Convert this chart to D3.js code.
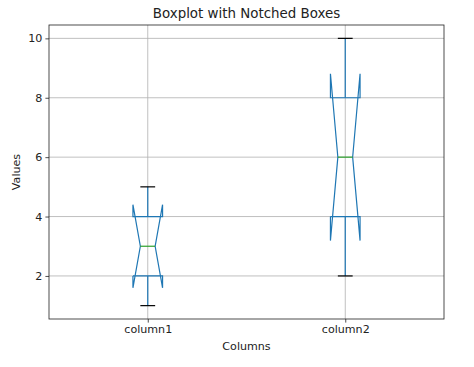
<!DOCTYPE html>
<html>
<head>
<meta charset="utf-8">
<script src="https://cdn.jsdelivr.net/npm/d3@7"></script>
<style>
  body { margin: 0; background: #fff; }
  text { font-family: "DejaVu Sans", sans-serif; fill: #222; }
</style>
</head>
<body>
<div id="chart"></div>
<script>
// Box statistics
const categories = ["column1", "column2"];
const whiskerLow = [1, 2];
const q1 = [2, 4];
const median = [3, 6];
const q3 = [4, 8];
const whiskerHigh = [5, 10];
const notchLow = [1.6, 3.19];
const notchHigh = [4.4, 8.81];
const yTicks = [2, 4, 6, 8, 10];

const width = 474;
const height = 367;
const margin = { top: 25, right: 30, bottom: 48, left: 49 };

const svg = d3.select("#chart")
    .append("svg")
    .attr("width", width)
    .attr("height", height);

// Scales (matplotlib style positions 1..n, limits 0.5..n+0.5)
const x = d3.scaleLinear()
    .domain([0.5, categories.length + 0.5])
    .range([margin.left, width - margin.right]);

const y = d3.scaleLinear()
    .domain([0.55, 10.45])
    .range([height - margin.bottom, margin.top]);

const boxW = 0.15;      // box width in data units
const capW = boxW / 2;  // cap width
const medW = boxW / 2;  // notch waist width

// Grid
const grid = svg.append("g");
grid.selectAll("line.h")
    .data(yTicks)
    .enter()
    .append("line")
    .attr("x1", x.range()[0])
    .attr("x2", x.range()[1])
    .attr("y1", d => y(d))
    .attr("y2", d => y(d))
    .attr("stroke", "#b0b0b0")
    .attr("stroke-width", 0.8);
grid.selectAll("line.v")
    .data(categories)
    .enter()
    .append("line")
    .attr("x1", (d, i) => x(i + 1))
    .attr("x2", (d, i) => x(i + 1))
    .attr("y1", y.range()[0])
    .attr("y2", y.range()[1])
    .attr("stroke", "#b0b0b0")
    .attr("stroke-width", 0.8);

// Boxes
const boxes = svg.append("g")
    .selectAll("g")
    .data(categories)
    .enter()
    .append("g");

// whiskers
boxes.append("line")
    .attr("x1", (d, i) => x(i + 1))
    .attr("x2", (d, i) => x(i + 1))
    .attr("y1", (d, i) => y(q1[i]))
    .attr("y2", (d, i) => y(whiskerLow[i]))
    .attr("stroke", "#1f77b4")
    .attr("stroke-width", 1.2);
boxes.append("line")
    .attr("x1", (d, i) => x(i + 1))
    .attr("x2", (d, i) => x(i + 1))
    .attr("y1", (d, i) => y(q3[i]))
    .attr("y2", (d, i) => y(whiskerHigh[i]))
    .attr("stroke", "#1f77b4")
    .attr("stroke-width", 1.2);

// caps
[whiskerLow, whiskerHigh].forEach(arr => {
    boxes.append("line")
        .attr("x1", (d, i) => x(i + 1 - capW / 2))
        .attr("x2", (d, i) => x(i + 1 + capW / 2))
        .attr("y1", (d, i) => y(arr[i]))
        .attr("y2", (d, i) => y(arr[i]))
        .attr("stroke", "#000")
        .attr("stroke-width", 1.2);
});

// notched box outline, same vertex order as matplotlib
boxes.append("path")
    .attr("d", (d, i) => {
        const p = i + 1;
        const l = p - boxW / 2, r = p + boxW / 2;
        const ml = p - medW / 2, mr = p + medW / 2;
        const pts = [
            [l, q1[i]], [r, q1[i]], [r, notchLow[i]], [mr, median[i]],
            [r, notchHigh[i]], [r, q3[i]], [l, q3[i]], [l, notchHigh[i]],
            [ml, median[i]], [l, notchLow[i]], [l, q1[i]]
        ];
        return d3.line().x(v => x(v[0])).y(v => y(v[1]))(pts);
    })
    .attr("fill", "none")
    .attr("stroke", "#1f77b4")
    .attr("stroke-width", 1.2)
    .attr("stroke-linejoin", "miter");

// medians
boxes.append("line")
    .attr("x1", (d, i) => x(i + 1 - medW / 2))
    .attr("x2", (d, i) => x(i + 1 + medW / 2))
    .attr("y1", (d, i) => y(median[i]))
    .attr("y2", (d, i) => y(median[i]))
    .attr("stroke", "#2ca02c")
    .attr("stroke-width", 1.2);

// Axes
const yAxis = d3.axisLeft(y).tickValues(yTicks).tickSize(3.6).tickPadding(3);
const xAxis = d3.axisBottom(x).tickValues(categories.map((d, i) => i + 1))
    .tickFormat((d, i) => categories[i]).tickSize(3.6).tickPadding(3);

const gy = svg.append("g")
    .attr("transform", `translate(${margin.left},0)`)
    .call(yAxis);
const gx = svg.append("g")
    .attr("transform", `translate(0,${height - margin.bottom})`)
    .call(xAxis);
[gx, gy].forEach(g => {
    g.select(".domain").remove();
    g.selectAll("line").attr("stroke", "#222").attr("stroke-width", 0.8);
    g.selectAll("text").attr("font-size", 11.1).attr("fill", "#222");
});

// Frame
svg.append("rect")
    .attr("x", x.range()[0])
    .attr("y", y.range()[1])
    .attr("width", x.range()[1] - x.range()[0])
    .attr("height", y.range()[0] - y.range()[1])
    .attr("fill", "none")
    .attr("stroke", "#222")
    .attr("stroke-width", 0.8);

// Labels
svg.append("text")
    .attr("x", (x.range()[0] + x.range()[1]) / 2)
    .attr("y", 18)
    .attr("text-anchor", "middle")
    .attr("font-size", 13.4)
    .text("Boxplot with Notched Boxes");

svg.append("text")
    .attr("x", (x.range()[0] + x.range()[1]) / 2)
    .attr("y", 350)
    .attr("text-anchor", "middle")
    .attr("font-size", 11.1)
    .text("Columns");

svg.append("text")
    .attr("transform", `translate(20,${(y.range()[0] + y.range()[1]) / 2}) rotate(-90)`)
    .attr("text-anchor", "middle")
    .attr("font-size", 11.1)
    .text("Values");
</script>
</body>
</html>
